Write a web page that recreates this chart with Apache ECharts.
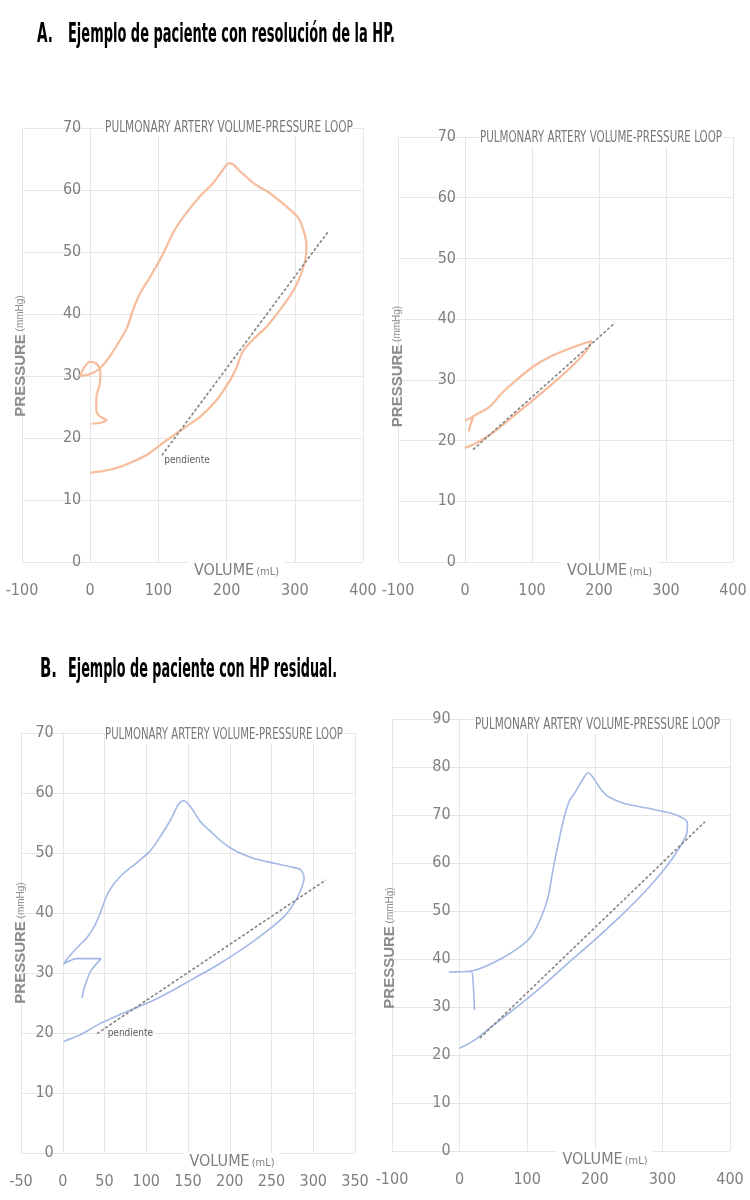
<!DOCTYPE html>
<html>
<head>
<meta charset="utf-8">
<script src="https://cdn.jsdelivr.net/npm/echarts@6/dist/echarts.min.js"></script>
<style>
  html, body { margin: 0; padding: 0; background: #fff; }
  #chart { width: 750px; height: 1200px; }
</style>
</head>
<body>
<div id="chart"></div>
<script>
// headings and titles
const headingA = ['A.', 'Ejemplo de paciente con resolución de la HP.']
const headingB = ['B.', 'Ejemplo de paciente con HP residual.']
const chartTitle = 'PULMONARY ARTERY VOLUME-PRESSURE LOOP'
const slopeNote = 'pendiente'

// A, left: loop (volume mL / pressure mmHg)
const a1Vol = [2, 17, 24, 15, 9, 9, 14, 15, 10, 0, -8, -15, 0, 15, 29, 45, 54, 63, 73, 88, 102, 112, 124, 141, 161, 180, 195, 203, 209, 219, 242, 262, 287, 305, 313, 317, 316, 309, 300, 288, 275, 259, 240, 224, 215, 205, 185, 161, 140, 122, 102, 83, 63, 40, 20, 0]
const a1Pres = [22.3, 22.5, 22.9, 23.4, 24.4, 26.5, 28.7, 30.5, 31.9, 32.3, 31.5, 30, 30.3, 31.3, 33.2, 36, 37.8, 40.7, 43.3, 46, 48.7, 50.9, 53.6, 56.3, 59, 61.1, 63.3, 64.3, 64.2, 63.1, 60.9, 59.6, 57.4, 55.5, 53.4, 51.2, 49.1, 46.4, 44.2, 42.1, 40.2, 38, 36, 34, 31.5, 29.3, 26.1, 23.4, 21.8, 20.4, 18.8, 17.3, 16.2, 15.2, 14.7, 14.4]
const a1SlopeVol = [105, 349]
const a1SlopePres = [17.2, 53.3]
const a1Note = [142, 16.4]

// A, right
const a2Vol = [0, 17, 42, 72, 102, 132, 162, 182, 189, 177, 157, 127, 102, 77, 55, 37, 17, 8, 0, 6, 12, 8, 6]
const a2Pres = [18.8, 19.6, 21.3, 24, 26.7, 29.5, 32.5, 34.9, 36.4, 36, 35.2, 33.8, 32.2, 30, 27.8, 25.6, 24.3, 23.7, 23.3, 23.6, 23.7, 22.6, 21.5]
const a2SlopeVol = [12, 224]
const a2SlopePres = [18.5, 39.4]

// B, left
const b1Vol = [23, 26, 33, 46, 17, 1, 5, 17, 29, 38, 46, 53, 62, 72, 87, 105, 118, 129, 139, 145, 153, 165, 177, 193, 209, 229, 253, 273, 285, 289, 285, 277, 265, 241, 213, 185, 157, 133, 105, 77, 45, 21, 1]
const b1Pres = [25.8, 27.6, 30.2, 32.4, 32.4, 31.5, 32.3, 34.2, 35.9, 37.8, 40.4, 43, 45, 46.5, 48.2, 50.4, 53, 55.5, 58.2, 58.7, 57.7, 55.2, 53.6, 51.6, 50.2, 49.1, 48.3, 47.7, 47.2, 45.8, 43.8, 41.6, 39.4, 36.6, 33.8, 31.3, 29.1, 27.2, 25.2, 23.6, 21.6, 19.7, 18.6]
const b1SlopeVol = [41, 315]
const b1SlopePres = [19.9, 45.5]
const b1Note = [81, 19.9]

// B, right
const b2Vol = [22, 20, 17, -16, 17, 37, 62, 86, 106, 121, 131, 138, 146, 155, 163, 170, 183, 190, 195, 203, 210, 220, 244, 279, 314, 331, 337, 336, 323, 304, 274, 240, 200, 160, 121, 82, 47, 22, 0]
const b2Pres = [29.4, 34.9, 37.4, 37.3, 37.5, 38.4, 40.1, 42.2, 44.7, 48.8, 53, 58.5, 64.1, 69.7, 73.1, 74.5, 77.6, 78.8, 78.3, 76.6, 75.2, 73.8, 72.4, 71.4, 70.3, 69.3, 68.3, 66.2, 62.7, 58.9, 54, 49.2, 44, 39.1, 34.2, 29.7, 25.9, 23.1, 21.4]
const b2SlopeVol = [30, 363]
const b2SlopePres = [23.5, 68.6]

const NARROW = '"Liberation Sans Narrow", "DejaVu Sans Condensed", sans-serif'
const GRID_COLOR = '#e6e6e6'
const LABEL_COLOR = '#7f7f7f'
const ORANGE = '#f6bc9c'
const BLUE = '#a3b8e6'

const grids = [
  { left: 22, top: 128, width: 341, height: 434 },
  { left: 398, top: 137, width: 335, height: 425 },
  { left: 21, top: 733, width: 334, height: 420 },
  { left: 392, top: 719, width: 338, height: 432 }
]
const xRanges = [[-100, 400, 100], [-100, 400, 100], [-50, 350, 50], [-100, 400, 100]]
const yMax = [70, 70, 70, 90]

const pairs = (xs, ys) => xs.map((v, i) => [v, ys[i]])

function xAxisFor(i) {
  const [min, max, interval] = xRanges[i]
  return {
    type: 'value', gridIndex: i, min, max, interval,
    name: '{v|VOLUME}{u|(mL)}',
    nameLocation: 'middle',
    nameGap: -1,
    nameMoveOverlap: false,
    nameTextStyle: {
      padding: [0, 0, 0, 88],
      rich: {
        v: { fontFamily: NARROW, fontSize: 16, color: LABEL_COLOR, backgroundColor: '#fff', padding: [2, 2, 2, 6] },
        u: { fontFamily: NARROW, fontSize: 11, color: LABEL_COLOR, backgroundColor: '#fff', padding: [5, 6, 3, 0] }
      }
    },
    axisLine: { show: false, onZero: false },
    axisTick: { show: false },
    axisLabel: { margin: 21, color: LABEL_COLOR, fontFamily: NARROW, fontSize: 16 },
    splitLine: { show: true, lineStyle: { color: GRID_COLOR, width: 1 } }
  }
}

function yAxisFor(i, nameGap, nameShift) {
  const [min, max] = xRanges[i]
  // the value axis sits where volume = 0
  const shift = grids[i].width * (0 - min) / (max - min)
  return {
    type: 'value', gridIndex: i, min: 0, max: yMax[i], interval: 10,
    position: 'left',
    offset: -shift,
    name: '{p|PRESSURE}{m| (mmHg)}',
    nameLocation: 'middle',
    nameGap,
    nameMoveOverlap: false,
    nameTextStyle: {
      padding: [0, nameShift, 0, 0],
      rich: {
        p: { fontFamily: '"Liberation Sans", Arial, sans-serif', fontWeight: 'bold', fontSize: 15, color: '#8c8c8c' },
        m: { fontFamily: '"Liberation Sans", Arial, sans-serif', fontSize: 10, color: '#8c8c8c' }
      }
    },
    axisLine: { show: true, onZero: false, lineStyle: { color: GRID_COLOR } },
    axisTick: { show: false },
    axisLabel: { margin: 9, color: LABEL_COLOR, fontFamily: NARROW, fontSize: 16 },
    splitLine: { show: true, lineStyle: { color: GRID_COLOR, width: 1 } }
  }
}

function loopSeries(idx, xs, ys, color, width) {
  return {
    type: 'line', xAxisIndex: idx, yAxisIndex: idx,
    data: pairs(xs, ys),
    showSymbol: false, smooth: 0.3,
    lineStyle: { color, width },
    z: 3
  }
}

function slopeSeries(idx, xs, ys) {
  return {
    type: 'line', xAxisIndex: idx, yAxisIndex: idx,
    data: pairs(xs, ys),
    showSymbol: false,
    lineStyle: { color: '#858585', width: 1.6, type: [3, 2] },
    z: 4
  }
}

function noteSeries(idx, pos) {
  return {
    type: 'scatter', xAxisIndex: idx, yAxisIndex: idx,
    data: [pos], symbolSize: 1,
    itemStyle: { color: 'rgba(0,0,0,0)' },
    label: { show: true, position: 'inside', formatter: slopeNote, fontFamily: NARROW, fontSize: 10, color: '#333' },
    z: 5
  }
}

// squeeze a text horizontally so it spans the given width, like the source image
const measureCtx = document.createElement('canvas').getContext('2d')
function fitText(x, y, text, font, fill, width, bg) {
  measureCtx.font = font
  const w = measureCtx.measureText(text).width
  return {
    type: 'text', x, y, scaleX: width / w, z: 100,
    style: {
      text, font, fill,
      align: 'left', textAlign: 'left',
      verticalAlign: 'middle', textVerticalAlign: 'middle',
      backgroundColor: bg || null,
      padding: bg ? [1, 0] : 0
    }
  }
}

const HEAD_FONT = 'bold 26px "Liberation Sans Narrow", "DejaVu Sans Condensed", sans-serif'
const TITLE_FONT = '15px "Liberation Sans Narrow", "DejaVu Sans Condensed", sans-serif'

const chart = echarts.init(document.getElementById('chart'), null, { renderer: 'canvas' })

chart.setOption({
  animation: false,
  backgroundColor: '#fff',
  grid: grids.map(g => Object.assign({ containLabel: false, outerBoundsMode: 'none' }, g)),
  xAxis: [xAxisFor(0), xAxisFor(1), xAxisFor(2), xAxisFor(3)],
  yAxis: [yAxisFor(0, 62, 22), yAxisFor(1, 60, 34), yAxisFor(2, 34, 0), yAxisFor(3, 62, 26)],
  graphic: [
    fitText(37, 35, headingA[0], HEAD_FONT, '#000', 16),
    fitText(68, 35, headingA[1], HEAD_FONT, '#000', 327),
    fitText(40, 670, headingB[0], HEAD_FONT, '#000', 17),
    fitText(68, 670, headingB[1], HEAD_FONT, '#000', 269),
    fitText(105, 128, chartTitle, TITLE_FONT, '#777', 248, '#fff'),
    fitText(480, 138, chartTitle, TITLE_FONT, '#777', 242, '#fff'),
    fitText(105, 735, chartTitle, TITLE_FONT, '#777', 238, '#fff'),
    fitText(475, 725, chartTitle, TITLE_FONT, '#777', 245, '#fff')
  ],
  series: [
    loopSeries(0, a1Vol, a1Pres, ORANGE, 2.2),
    slopeSeries(0, a1SlopeVol, a1SlopePres),
    noteSeries(0, a1Note),
    loopSeries(1, a2Vol, a2Pres, ORANGE, 2.2),
    slopeSeries(1, a2SlopeVol, a2SlopePres),
    loopSeries(2, b1Vol, b1Pres, BLUE, 1.6),
    slopeSeries(2, b1SlopeVol, b1SlopePres),
    noteSeries(2, b1Note),
    loopSeries(3, b2Vol, b2Pres, BLUE, 1.6),
    slopeSeries(3, b2SlopeVol, b2SlopePres)
  ]
})
</script>
</body>
</html>
